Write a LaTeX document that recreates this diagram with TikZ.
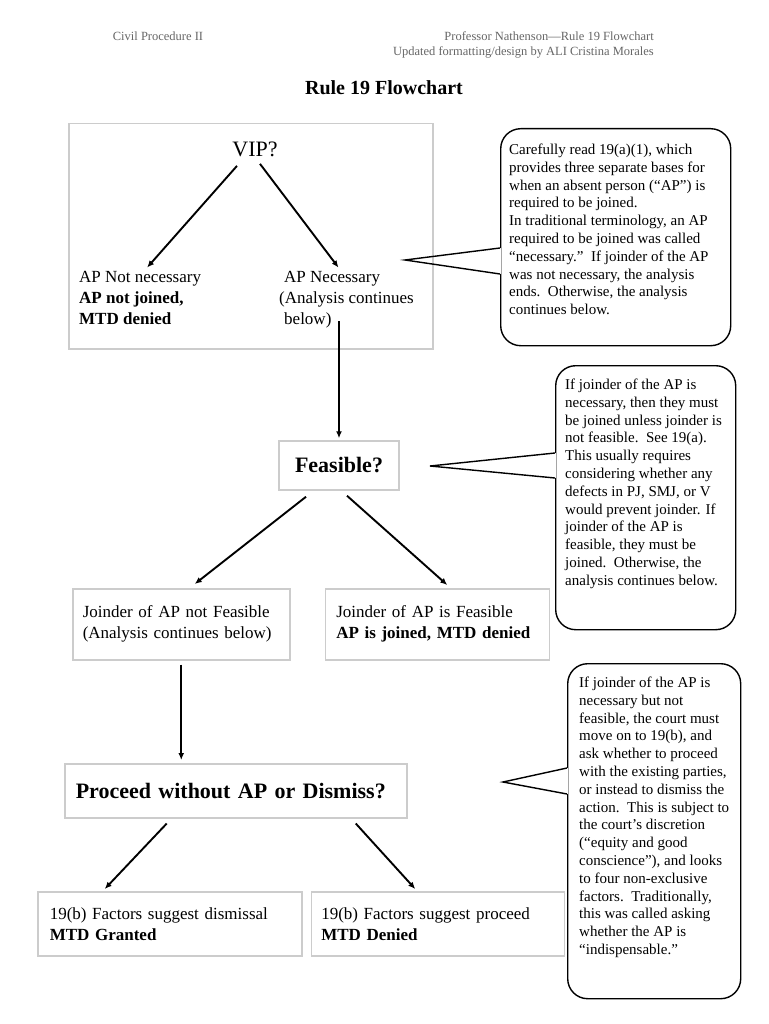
\documentclass[tikz,border=0pt]{standalone}
\usepackage{fontspec}
\setmainfont{Liberation Serif}
\usetikzlibrary{arrows.meta,positioning}

\begin{document}
\begin{tikzpicture}[x=1pt,y=-1pt,>={Latex[length=7pt,width=6pt]}]
	\tikzstyle{panel}=[draw=black!20, line width=1.5pt, rectangle]
	\tikzstyle{body}=[font=\fontsize{17}{21}\selectfont, align=left, inner ysep=2pt]
	\tikzstyle{ask}=[font=\fontsize{22}{26}\bfseries\selectfont]
	\tikzstyle{note}=[draw, line width=1.4pt, rectangle, rounded corners=20pt, anchor=north west, inner sep=0pt]
	\tikzstyle{notetext}=[font=\fontsize{15}{17.8}\selectfont, align=left, inner sep=0pt, anchor=base west]
	\tikzstyle{flow}=[->, line width=1.9pt]
	\tikzstyle{pointer}=[line width=1.4pt]
	\tikzstyle{head}=[text=black!60, font=\fontsize{12.5}{14}\selectfont, inner sep=0pt]

	\useasboundingbox[fill=white] (0,0) rectangle (768,1024);

	% header and title
	\node[head, anchor=base] (course) at (158,41) {Civil Procedure II};
	\node[head, anchor=base east] (credit) at (654,41) {Professor Nathenson—Rule 19 Flowchart};
	\node[head, anchor=base east] (design) at (654,56) {Updated formatting/design by ALI Cristina Morales};
	\node[font=\fontsize{20}{24}\bfseries\selectfont, anchor=base] (title) at (384,95) {Rule 19 Flowchart};

	% VIP box (base anchors sit on the last line)
	\node[panel, anchor=north west, minimum width=364, minimum height=225, inner sep=0pt] (vipbox) at (68,123) {};
	\node[font=\fontsize{22}{26}\selectfont, anchor=base] (vip) at (255,157) {VIP?};
	\node[body, inner sep=0pt, anchor=base west] (apno) at (79,324)
{AP Not necessary\\\textbf{AP not joined,}\\\textbf{MTD denied}};
	\node[body, inner sep=0pt, anchor=base west] (apyes) at (279,324)
{\hspace*{5pt}AP Necessary\\(Analysis continues\\\hspace*{5pt}below)};
	\coordinate (vipout) at (339,321);

	% feasibility
	\node[panel, ask, minimum width=120, minimum height=49, anchor=center] (feas) at (339,465.5) {Feasible?};
	\node[panel, body, text width=197, inner xsep=10pt, minimum height=71, anchor=north west] (nofeas) at (72,588)
{Joinder of AP not Feasible\\(Analysis continues below)};
	\node[panel, body, text width=202, inner xsep=11pt, minimum height=71] (yesfeas) [right=34pt of nofeas]
{Joinder of AP is Feasible\\\textbf{AP is joined, MTD denied}};

	% 19(b)
	\node[panel, ask, text width=320, inner xsep=11pt, minimum height=54, align=left, anchor=north west] (proc) at (64,763)
{Proceed without AP or Dismiss?};
	\node[panel, body, text width=240, inner xsep=12pt, minimum height=64, anchor=north west] (dismiss) at (37,891)
{19(b) Factors suggest dismissal\\\textbf{MTD Granted}};
	\node[panel, body, text width=233, inner xsep=10pt, minimum height=64] (keep) [right=8pt of dismiss]
{19(b) Factors suggest proceed\\\textbf{MTD Denied}};

	\draw[flow] ([shift={(-18,5)}]vip.south) -- ([shift={(7,-3)}]apno.north);
	\draw[flow] ([shift={(5,3)}]vip.south) -- ([shift={(-8,-3)}]apyes.north);
	\draw[flow, shorten >=2pt] (vipout) -- (feas.north);
	\draw[flow] ([shift={(-33,6)}]feas.south) -- ([shift={(13.5,-4)}]nofeas.north);
	\draw[flow] ([shift={(8,5)}]feas.south) -- ([shift={(10,-3)}]yesfeas.north);
	\draw[flow, shorten <=4pt, shorten >=3pt] (nofeas.south) -- (nofeas.south |- proc.north);
	\draw[flow] ([shift={(-69,5)}]proc.south) -- ([shift={(-65,-2)}]dismiss.north);
	\draw[flow] ([shift={(120,5)}]proc.south) -- ([shift={(-22.5,-2)}]keep.north);

	% notes on the right
	\node[note, minimum width=230, minimum height=217] (noteA) at (500,128) {};
	\node[notetext] (noteAtext) at (509,314.7)
{Carefully read 19(a)(1), which\\provides three separate bases for\\when an absent person (“AP”) is\\required to be joined.\\In traditional terminology, an AP\\required to be joined was called\\“necessary.”\ \ If joinder of the AP\\was not necessary, the analysis\\ends.\ \ Otherwise, the analysis\\continues below.};
	\coordinate (tipA) at (405,260);
	\coordinate (baseA1) at (500,248);
	\coordinate (baseA2) at (500,274);
	\draw[white, line width=2.5pt] (baseA1) -- (baseA2);
	\draw[pointer] (baseA1) -- (tipA) -- (baseA2);

	\node[note, minimum width=180, minimum height=264] (noteB) at (555,365) {};
	\node[notetext] (noteBtext) at (565,585.3)
{If joinder of the AP is\\necessary, then they must\\be joined unless joinder is\\not feasible.\ \ See 19(a).\\This usually requires\\considering whether any\\defects in PJ, SMJ, or V\\would prevent joinder. If\\joinder of the AP is\\feasible, they must be\\joined.\ \ Otherwise, the\\analysis continues below.};
	\coordinate (tipB) at (430,466);
	\coordinate (baseB1) at (555,453);
	\coordinate (baseB2) at (555,478);
	\draw[white, line width=2.5pt] (baseB1) -- (baseB2);
	\draw[pointer] (baseB1) -- (tipB) -- (baseB2);

	\node[note, minimum width=173, minimum height=335] (noteC) at (567,663) {};
	\node[notetext] (noteCtext) at (579,954.5)
{If joinder of the AP is\\necessary but not\\feasible, the court must\\move on to 19(b), and\\ask whether to proceed\\with the existing parties,\\or instead to dismiss the\\action.\ \ This is subject to\\the court’s discretion\\(“equity and good\\conscience”), and looks\\to four non-exclusive\\factors.\ \ Traditionally,\\this was called asking\\whether the AP is\\“indispensable.”};
	\coordinate (tipC) at (503,782);
	\coordinate (baseC1) at (567,768);
	\coordinate (baseC2) at (567,794);
	\draw[white, line width=2.5pt] (baseC1) -- (baseC2);
	\draw[pointer] (baseC1) -- (tipC) -- (baseC2);
\end{tikzpicture}
\end{document}
